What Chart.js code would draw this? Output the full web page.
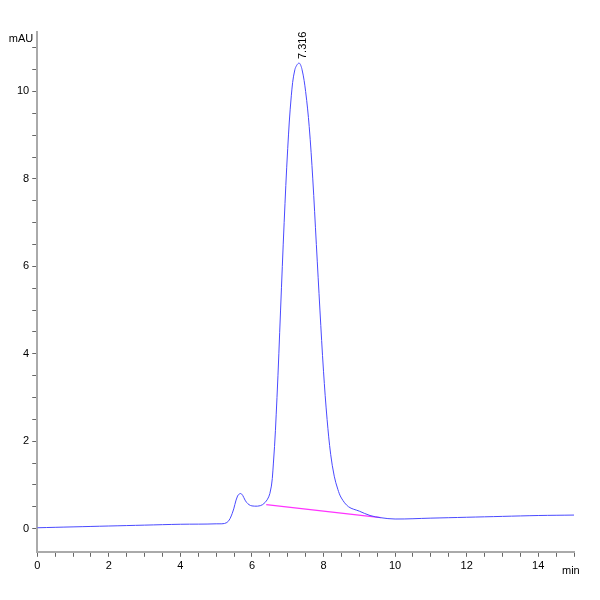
<!DOCTYPE html>
<html>
<head>
<script src="https://cdn.jsdelivr.net/npm/chart.js@4"></script>
<style>
  html, body { margin: 0; background: #fff; }
</style>
</head>
<body>
<canvas id="chroma" width="600" height="600"></canvas>
<script>
// retention time (min) and signal (mAU)
const times = [0, 1, 2, 3, 4, 5, 5.3, 5.45, 5.6, 5.7, 5.85, 6.0, 6.3, 6.5, 6.6, 6.7, 6.8, 6.9, 7.0, 7.1, 7.2, 7.316, 7.4, 7.5, 7.6, 7.7, 7.8, 7.9, 8.0, 8.1, 8.2, 8.3, 8.4, 8.5, 8.7, 9.0, 9.3, 9.6, 10, 11, 12, 13, 14, 15];
const signal = [0.02, 0.04, 0.06, 0.08, 0.1, 0.11, 0.14, 0.35, 0.75, 0.8, 0.6, 0.52, 0.55, 0.8, 1.5, 3.0, 5.0, 7.0, 8.7, 9.9, 10.5, 10.65, 10.5, 10.0, 9.2, 8.0, 6.5, 5.0, 3.6, 2.5, 1.7, 1.2, 0.9, 0.7, 0.5, 0.4, 0.3, 0.25, 0.22, 0.24, 0.26, 0.28, 0.3, 0.31];
const baseTimes = [6.4, 9.6];
const baseValues = [0.55, 0.25];
const peakTime = 7.316;
const peakValue = 10.65;
const peakLabel = '7.316';

const peakLabelPlugin = {
  id: 'peakLabel',
  afterDatasetsDraw(chart) {
    const { ctx, scales } = chart;
    const x = scales.x.getPixelForValue(peakTime);
    const y = scales.y.getPixelForValue(peakValue);
    ctx.save();
    ctx.translate(x + 4, y - 4);
    ctx.rotate(-Math.PI / 2);
    ctx.fillStyle = '#000';
    ctx.font = '11px "Liberation Sans", Arial';
    ctx.textBaseline = 'middle';
    ctx.fillText(peakLabel, 0, 0);
    ctx.restore();
  }
};

new Chart(document.getElementById('chroma'), {
  type: 'scatter',
  data: {
    datasets: [
      {
        data: times.map((t, i) => ({ x: t, y: signal[i] })),
        showLine: true,
        borderColor: '#4a4aff',
        borderWidth: 1,
        pointRadius: 0,
        tension: 0.35
      },
      {
        data: baseTimes.map((t, i) => ({ x: t, y: baseValues[i] })),
        showLine: true,
        borderColor: '#ff33ff',
        borderWidth: 1.2,
        pointRadius: 0
      }
    ]
  },
  options: {
    responsive: false,
    animation: false,
    layout: { padding: { left: 14, right: 26, top: 32, bottom: 24 } },
    plugins: { legend: { display: false }, tooltip: { enabled: false } },
    scales: {
      x: {
        type: 'linear', min: 0, max: 15,
        border: { color: '#aaa', width: 2 },
        grid: { drawOnChartArea: false, tickLength: 5, color: '#666' },
        afterBuildTicks: axis => {
          const t = [];
          for (let v = 0; v <= 15; v += 0.5) t.push({ value: v });
          axis.ticks = t;
        },
        ticks: { autoSkip: false, maxRotation: 0, color: '#000',
          font: { size: 11, family: '"Liberation Sans", Arial' },
          callback: v => (Math.abs(v % 2) < 1e-9 ? v : '') }
      },
      y: {
        type: 'linear', min: -0.53, max: 11.36,
        border: { color: '#aaa', width: 2 },
        grid: { drawOnChartArea: false, tickLength: 5, color: '#666' },
        afterBuildTicks: axis => {
          const t = [];
          for (let v = 0; v <= 11; v += 0.5) t.push({ value: v });
          axis.ticks = t;
        },
        ticks: { autoSkip: false, color: '#000',
          font: { size: 11, family: '"Liberation Sans", Arial' },
          callback: v => (Math.abs(v % 2) < 1e-9 ? v : '') }
      }
    }
  },
  plugins: [peakLabelPlugin, {
    id: 'unitLabels',
    afterDraw(chart) {
      const { ctx, chartArea } = chart;
      ctx.save();
      ctx.fillStyle = '#000';
      ctx.font = '11px "Liberation Sans", Arial';
      ctx.textAlign = 'right';
      ctx.fillText('mAU', chartArea.left - 4, chartArea.top + 10);
      ctx.textAlign = 'left';
      ctx.fillText('min', chartArea.right - 12, chartArea.bottom + 22);
      ctx.restore();
    }
  }]
});
</script>
</body>
</html>
